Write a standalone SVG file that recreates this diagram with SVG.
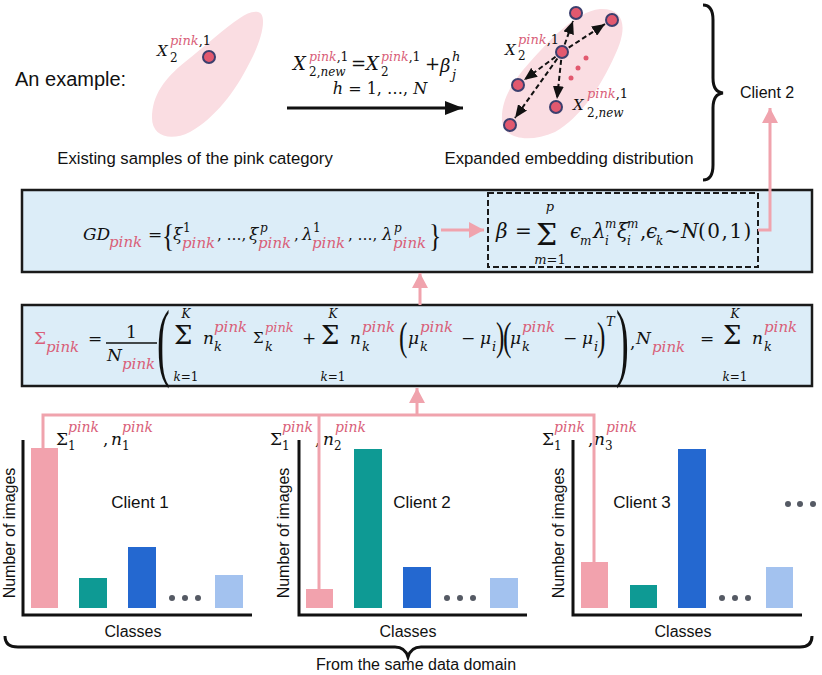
<svg xmlns="http://www.w3.org/2000/svg" width="822" height="675" viewBox="0 0 822 675">
<defs>
<style>
.t{font-family:"Liberation Sans",Arial,sans-serif;fill:#111}
.mi{font-family:"DejaVu Serif",serif;font-style:italic;fill:#111}
.mu{font-family:"DejaVu Serif",serif;font-style:normal;fill:#111}
.br{font-family:"Liberation Serif",serif;fill:#111}
.pk{fill:#d95f79}
.box{fill:#dcedf8;stroke:#1a1a1a;stroke-width:2.5}
.blob{fill:#fadde2}
.pt{fill:#e2596f;stroke:#3c3f6e;stroke-width:2}
.dot{fill:#e2596f}
.gd{fill:#555a64}
.ax{stroke:#111;stroke-width:3;fill:none}
.pc{stroke:#f0a3ad;stroke-width:3;fill:none}
.da{stroke:#111;stroke-width:2;stroke-dasharray:5,3;fill:none}
.b1{fill:#f2a2ad}.b2{fill:#0e9a94}.b3{fill:#2468d0}.b4{fill:#a3c2ef}
</style>
<marker id="pa" markerUnits="userSpaceOnUse" markerWidth="16" markerHeight="16" refX="15" refY="8" orient="auto"><path d="M0,0 L15,8 L0,16 Z" fill="#f0a3ad"/></marker>
<marker id="ba" markerUnits="userSpaceOnUse" markerWidth="18" markerHeight="14" refX="18" refY="7" orient="auto"><path d="M0,0 L18,7 L0,14 Z" fill="#111"/></marker>
<marker id="sa" markerUnits="userSpaceOnUse" markerWidth="13" markerHeight="11" refX="13" refY="5.5" orient="auto"><path d="M0,0 L13,5.5 L0,11 Z" fill="#111"/></marker>
</defs>
<rect width="822" height="675" fill="#fff"/>

<g id="example">
<text class="t" x="15" y="86" font-size="20">An example:</text>
<path class="blob" d="M258,12 C268,14 262,40 250,62 C235,92 215,118 190,132 C170,142 152,136 152,118 C152,95 165,78 185,62 C205,46 225,28 240,18 C246,14 252,11 258,12 Z"/>
<circle class="pt" cx="209" cy="57" r="6"/>
<text class="mi" x="157" y="56" font-size="15">X</text>
<text class="mi pk" x="170" y="45" font-size="13">pink<tspan class="mu" font-style="normal">,1</tspan></text>
<text class="mu" x="170" y="62" font-size="12">2</text>
<text class="t" x="195" y="164" font-size="16.7" text-anchor="middle">Existing samples of the pink category</text>

<text class="mi" x="293" y="70" font-size="18">X</text>
<text class="mi pk" x="309" y="61" font-size="12.5">pink<tspan class="mu" font-style="normal">,1</tspan></text>
<text class="mu" x="309" y="76" font-size="12">2,<tspan class="mi">new</tspan></text>
<text class="mu" x="351" y="70" font-size="18">=</text>
<text class="mi" x="366" y="70" font-size="18">X</text>
<text class="mi pk" x="381" y="61" font-size="12.5">pink<tspan class="mu" font-style="normal">,1</tspan></text>
<text class="mu" x="381" y="76" font-size="12">2</text>
<text class="mu" x="425" y="70" font-size="18">+</text>
<text class="mi" x="440" y="72" font-size="18">β</text>
<text class="mi" x="452" y="61" font-size="13">h</text>
<text class="mi" x="452" y="79" font-size="13">j</text>
<text class="mu" x="380" y="94" font-size="16" text-anchor="middle"><tspan class="mi">h</tspan> = 1, …, <tspan class="mi">N</tspan></text>

<path class="blob" d="M600,9 C625,8 628,28 615,55 C600,88 580,118 555,132 C530,143 503,140 502,120 C501,100 512,82 530,62 C550,40 575,12 600,9 Z"/>
<path class="da" marker-end="url(#sa)" d="M562,52 L573,21"/>
<path class="da" marker-end="url(#sa)" d="M562,52 L605,24"/>
<path class="da" marker-end="url(#sa)" d="M562,52 L524,80"/>
<path class="da" marker-end="url(#sa)" d="M562,52 L557,99"/>
<path class="da" marker-end="url(#sa)" d="M562,52 L515,118"/>
<circle class="pt" cx="562" cy="52" r="6"/>
<circle class="pt" cx="576" cy="13" r="6"/>
<circle class="pt" cx="612" cy="20" r="6"/>
<circle class="pt" cx="518" cy="85" r="6"/>
<circle class="pt" cx="556" cy="107" r="6"/>
<circle class="pt" cx="510" cy="125" r="6"/>
<circle class="dot" cx="586" cy="58" r="2.5"/>
<circle class="dot" cx="578" cy="68" r="2.5"/>
<circle class="dot" cx="571" cy="78" r="2.5"/>
<text class="mi" x="505" y="55" font-size="15">X</text>
<text class="mi pk" x="518" y="44" font-size="13">pink<tspan class="mu" font-style="normal">,1</tspan></text>
<text class="mu" x="518" y="60" font-size="12">2</text>
<text class="mi" x="573" y="110" font-size="15">X</text>
<text class="mi pk" x="587" y="98" font-size="13">pink<tspan class="mu" font-style="normal">,1</tspan></text>
<text class="mu" x="587" y="117" font-size="12">2,<tspan class="mi">new</tspan></text>
<text class="t" x="569" y="164" font-size="16.8" text-anchor="middle">Expanded embedding distribution</text>
<path class="ax" d="M703,5 Q713,5 713,20 V78 Q713,92 723,93 Q713,94 713,108 V165 Q713,180 703,180"/>
<text class="t" x="740" y="98" font-size="16">Client 2</text>
</g>

<g id="gd-box">
<rect class="box" x="22" y="190" width="790" height="82"/>
<text class="mi" x="83" y="240" font-size="17">GD</text>
<text class="mi pk" x="109" y="247" font-size="15">pink</text>
<text class="mu" x="148" y="240" font-size="17">=</text>
<text class="br" transform="translate(162,247) scale(0.85,1.05)" font-size="30">{</text>
<text class="mi" x="173" y="240" font-size="17">ξ</text>
<text class="mu" x="183" y="232" font-size="12">1</text>
<text class="mi pk" x="182" y="248" font-size="15">pink</text>
<text class="mu" x="217" y="240" font-size="15">, …,</text>
<text class="mi" x="249" y="240" font-size="17">ξ</text>
<text class="mi" x="260" y="232" font-size="12">p</text>
<text class="mi pk" x="258" y="248" font-size="15">pink</text>
<text class="mu" x="294" y="240" font-size="15">,</text>
<text class="mi" x="302" y="240" font-size="17">λ</text>
<text class="mu" x="313" y="232" font-size="12">1</text>
<text class="mi pk" x="312" y="248" font-size="15">pink</text>
<text class="mu" x="348" y="240" font-size="15">, …,</text>
<text class="mi" x="382" y="240" font-size="17">λ</text>
<text class="mi" x="394" y="232" font-size="12">p</text>
<text class="mi pk" x="393" y="248" font-size="15">pink</text>
<text class="br" transform="translate(429,247) scale(0.85,1.05)" font-size="30">}</text>
</g>

<g id="beta-box">
<rect x="488" y="193" width="270" height="74" fill="none" stroke="#1a1a1a" stroke-width="2" stroke-dasharray="6,3"/>
<text class="mi" x="496" y="238" font-size="20">β</text>
<text class="mu" x="515" y="238" font-size="20">=</text>
<text class="mu" x="536" y="245" font-size="30">Σ</text>
<text class="mi" x="550" y="211" font-size="13" text-anchor="middle">p</text>
<text class="mi" x="550" y="264" font-size="13" text-anchor="middle">m<tspan class="mu">=1</tspan></text>
<text class="mi" x="570" y="238" font-size="20">ϵ</text>
<text class="mi" x="580" y="245" font-size="12">m</text>
<text class="mi" x="593" y="238" font-size="20">λ</text>
<text class="mi" x="605" y="228" font-size="12">m</text>
<text class="mi" x="605" y="245" font-size="12">i</text>
<text class="mi" x="617" y="238" font-size="20">ξ</text>
<text class="mi" x="627" y="228" font-size="12">m</text>
<text class="mi" x="627" y="245" font-size="12">i</text>
<text class="mu" x="640" y="238" font-size="20">,</text>
<text class="mi" x="646" y="238" font-size="20">ϵ</text>
<text class="mi" x="656" y="245" font-size="12">k</text>
<text class="mu" x="664" y="238" font-size="20">~</text>
<text class="mi" x="681" y="238" font-size="20">N</text>
<text class="mu" x="698" y="238" font-size="20" letter-spacing="1.5">(0,1)</text>
</g>

<g id="sigma-box">
<rect class="box" x="22" y="305" width="790" height="81"/>
<text class="mu pk" x="34" y="344" font-size="17">Σ</text>
<text class="mi pk" x="46" y="352" font-size="15">pink</text>
<text class="mu" x="88" y="344" font-size="17">=</text>
<text class="mu" x="126" y="338" font-size="17">1</text>
<line x1="106" y1="343" x2="157" y2="343" stroke="#111" stroke-width="1.3"/>
<text class="mi" x="107" y="361" font-size="17">N</text>
<text class="mi pk" x="122" y="369" font-size="15">pink</text>
<text class="br" transform="translate(157,370) scale(0.8,1.8)" font-size="48">(</text>
<text class="mu" x="174" y="344" font-size="26">Σ</text>
<text class="mi" x="186" y="318" font-size="12" text-anchor="middle">K</text>
<text class="mi" x="186" y="381" font-size="12" text-anchor="middle">k<tspan class="mu">=1</tspan></text>
<text class="mi" x="203" y="344" font-size="17">n</text>
<text class="mi pk" x="214" y="332" font-size="15">pink</text>
<text class="mi" x="214" y="351" font-size="13">k</text>
<text class="mu" x="253" y="343" font-size="15">Σ</text>
<text class="mi pk" x="265" y="332" font-size="13">pink</text>
<text class="mi" x="265" y="351" font-size="13">k</text>
<text class="mu" x="302" y="344" font-size="17">+</text>
<text class="mu" x="321" y="344" font-size="26">Σ</text>
<text class="mi" x="333" y="318" font-size="12" text-anchor="middle">K</text>
<text class="mi" x="333" y="381" font-size="12" text-anchor="middle">k<tspan class="mu">=1</tspan></text>
<text class="mi" x="350" y="344" font-size="17">n</text>
<text class="mi pk" x="362" y="332" font-size="15">pink</text>
<text class="mi" x="362" y="351" font-size="13">k</text>
<text class="br" transform="translate(399,350) scale(0.9,1.4)" font-size="28">(</text>
<text class="mi" x="408" y="344" font-size="17">μ</text>
<text class="mi pk" x="420" y="332" font-size="15">pink</text>
<text class="mi" x="420" y="351" font-size="13">k</text>
<text class="mu" x="461" y="344" font-size="17">−</text>
<text class="mi" x="480" y="344" font-size="17">μ</text>
<text class="mi" x="492" y="351" font-size="13">i</text>
<text class="br" transform="translate(496,350) scale(0.9,1.4)" font-size="28">)</text>
<text class="br" transform="translate(503,350) scale(0.9,1.4)" font-size="28">(</text>
<text class="mi" x="510" y="344" font-size="17">μ</text>
<text class="mi pk" x="522" y="332" font-size="15">pink</text>
<text class="mi" x="522" y="351" font-size="13">k</text>
<text class="mu" x="563" y="344" font-size="17">−</text>
<text class="mi" x="582" y="344" font-size="17">μ</text>
<text class="mi" x="594" y="351" font-size="13">i</text>
<text class="br" transform="translate(597,350) scale(0.9,1.4)" font-size="28">)</text>
<text class="mi" x="606" y="326" font-size="13">T</text>
<text class="br" transform="translate(616,370) scale(0.8,1.8)" font-size="48">)</text>
<text class="mu" x="630" y="348" font-size="17">,</text>
<text class="mi" x="636" y="344" font-size="17">N</text>
<text class="mi pk" x="652" y="352" font-size="15">pink</text>
<text class="mu" x="700" y="344" font-size="17">=</text>
<text class="mu" x="723" y="344" font-size="26">Σ</text>
<text class="mi" x="735" y="318" font-size="12" text-anchor="middle">K</text>
<text class="mi" x="735" y="381" font-size="12" text-anchor="middle">k<tspan class="mu">=1</tspan></text>
<text class="mi" x="752" y="344" font-size="17">n</text>
<text class="mi pk" x="764" y="332" font-size="15">pink</text>
<text class="mi" x="764" y="351" font-size="13">k</text>
</g>

<g id="client1">
<rect class="b1" x="31" y="448" width="27" height="160"/>
<rect class="b2" x="79" y="578" width="28" height="30"/>
<rect class="b3" x="128" y="547" width="28" height="61"/>
<circle class="gd" cx="172" cy="598" r="3"/><circle class="gd" cx="185" cy="598" r="3"/><circle class="gd" cx="198" cy="598" r="3"/>
<rect class="b4" x="215" y="575" width="28" height="33"/>
<path class="ax" d="M23,440 V615 H252"/>
<text class="t" x="140" y="508" font-size="17" text-anchor="middle">Client 1</text>
<text class="t" transform="translate(15,533) rotate(-90)" font-size="16" text-anchor="middle">Number of images</text>
<text class="t" x="133" y="637" font-size="16" text-anchor="middle">Classes</text>
<text class="mu" x="56" y="445" font-size="17">Σ</text>
<text class="mu" x="68" y="450" font-size="12">1</text>
<text class="mi pk" x="68" y="432" font-size="14">pink</text>
<text class="mu" x="103" y="445" font-size="17">,</text>
<text class="mi" x="111" y="445" font-size="17">n</text>
<text class="mu" x="122" y="450" font-size="12">1</text>
<text class="mi pk" x="122" y="432" font-size="14">pink</text>
</g>

<g id="client2">
<rect class="b1" x="306" y="589" width="27" height="19"/>
<rect class="b2" x="354" y="449" width="28" height="159"/>
<rect class="b3" x="403" y="567" width="28" height="41"/>
<circle class="gd" cx="447" cy="598" r="3"/><circle class="gd" cx="460" cy="598" r="3"/><circle class="gd" cx="473" cy="598" r="3"/>
<rect class="b4" x="490" y="578" width="28" height="30"/>
<path class="ax" d="M299,440 V615 H527"/>
<text class="t" x="422" y="508" font-size="17" text-anchor="middle">Client 2</text>
<text class="t" transform="translate(289,533) rotate(-90)" font-size="16" text-anchor="middle">Number of images</text>
<text class="t" x="408" y="637" font-size="16" text-anchor="middle">Classes</text>
<text class="mu" x="270" y="445" font-size="17">Σ</text>
<text class="mu" x="282" y="450" font-size="12">1</text>
<text class="mi pk" x="282" y="432" font-size="14">pink</text>
<text class="mu" x="315" y="445" font-size="17">,</text>
<text class="mi" x="323" y="445" font-size="17">n</text>
<text class="mu" x="334" y="450" font-size="12">2</text>
<text class="mi pk" x="335" y="432" font-size="14">pink</text>
</g>

<g id="client3">
<rect class="b1" x="581" y="562" width="27" height="46"/>
<rect class="b2" x="630" y="585" width="27" height="23"/>
<rect class="b3" x="678" y="449" width="28" height="159"/>
<circle class="gd" cx="722" cy="598" r="3"/><circle class="gd" cx="735" cy="598" r="3"/><circle class="gd" cx="748" cy="598" r="3"/>
<rect class="b4" x="766" y="567" width="27" height="41"/>
<circle class="gd" cx="788" cy="504" r="3"/><circle class="gd" cx="800" cy="504" r="3"/><circle class="gd" cx="813" cy="504" r="3"/>
<path class="ax" d="M573,440 V615 H802"/>
<text class="t" x="642" y="508" font-size="17" text-anchor="middle">Client 3</text>
<text class="t" transform="translate(564,533) rotate(-90)" font-size="16" text-anchor="middle">Number of images</text>
<text class="t" x="683" y="637" font-size="16" text-anchor="middle">Classes</text>
<text class="mu" x="542" y="445" font-size="17">Σ</text>
<text class="mu" x="554" y="450" font-size="12">1</text>
<text class="mi pk" x="554" y="432" font-size="14">pink</text>
<text class="mu" x="588" y="445" font-size="17">,</text>
<text class="mi" x="594" y="445" font-size="17">n</text>
<text class="mu" x="605" y="450" font-size="12">3</text>
<text class="mi pk" x="606" y="432" font-size="14">pink</text>
</g>

<g id="domain">
<path class="ax" d="M5,636 Q5,647 18,647 H395 Q405,647 408,657 Q411,647 421,647 H800 Q812,647 812,636"/>
<text class="t" x="416" y="670" font-size="16" text-anchor="middle">From the same data domain</text>
</g>

<g id="connectors">
<path class="ax" marker-end="url(#ba)" d="M287,108 H463"/>
<path class="pc" marker-end="url(#pa)" d="M441,230 H484"/>
<path class="pc" marker-end="url(#pa)" d="M758,230 H770 V108"/>
<path class="pc" marker-end="url(#pa)" d="M420,305 V273"/>
<path class="pc" d="M43,449 V415 H594 V562"/>
<path class="pc" d="M319,415 V589"/>
<path class="pc" marker-end="url(#pa)" d="M417,415 V388"/>
</g>
</svg>
